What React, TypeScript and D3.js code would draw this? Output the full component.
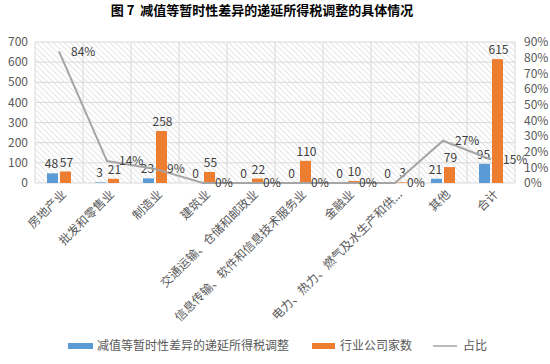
import React from "react";
import * as d3 from "d3";

const categories = [
  "房地产业",
  "批发和零售业",
  "制造业",
  "建筑业",
  "交通运输、仓储和邮政业",
  "信息传输、软件和信息技术服务业",
  "金融业",
  "电力、热力、燃气及水生产和供...",
  "其他",
  "合计",
];
const adjustCount = [48, 3, 23, 0, 0, 0, 0, 0, 21, 95];
const companyCount = [57, 21, 258, 55, 22, 110, 10, 3, 79, 615];
const ratio = [0.84, 0.14, 0.09, 0, 0, 0, 0, 0, 0.27, 0.15];
const leftTicks = [0, 100, 200, 300, 400, 500, 600, 700];
const rightTicks = [0, 0.1, 0.2, 0.3, 0.4, 0.5, 0.6, 0.7, 0.8, 0.9];

const W = 550;
const H = 364;
const margin = { top: 42, right: 35, bottom: 181, left: 35 };
const FONT = "'Noto Sans CJK SC', 'Noto Sans', sans-serif";
const BLUE = "#5b9bd5";
const ORANGE = "#ed7d31";
const GRAY = "#a5a5a5";

export default function App() {
  const innerW = W - margin.left - margin.right;
  const innerH = H - margin.top - margin.bottom;

  const x = d3.scaleBand<string>().domain(categories).range([0, innerW]);
  const yL = d3.scaleLinear().domain([0, 700]).range([innerH, 0]);
  const yR = d3.scaleLinear().domain([0, 0.9]).range([innerH, 0]);
  const barW = 11;
  const gap = 1;

  const line = d3
    .line<number>()
    .x((_, i) => x(categories[i])! + x.bandwidth() / 2)
    .y((d) => yR(d));

  return (
    <svg width={W} height={H} style={{ position: "absolute", left: 0, top: 0, background: "#fff" }} fontFamily={FONT}>
      <defs>
        <pattern id="hatch" width="4" height="4" patternUnits="userSpaceOnUse" patternTransform="rotate(-45)">
          <line x1="0" y1="0" x2="0" y2="4" stroke="#d4d4d4" strokeWidth="1.2" />
        </pattern>
      </defs>
      <text x={262} y={15} textAnchor="middle" fontSize={13} fontWeight="bold" fill="#000">
        图 7&#160;&#160;减值等暂时性差异的递延所得税调整的具体情况
      </text>
      <g transform={`translate(${margin.left},${margin.top})`}>
        <rect width={innerW} height={innerH} fill="url(#hatch)" />
        {leftTicks.map((t) => (
          <line key={t} x1={0} x2={innerW} y1={yL(t)} y2={yL(t)} stroke="#d9d9d9" />
        ))}
        {categories.map((c) => (
          <line key={c} x1={x(c)!} x2={x(c)!} y1={0} y2={innerH} stroke="#d9d9d9" />
        ))}
        <line x1={innerW} x2={innerW} y1={0} y2={innerH} stroke="#d9d9d9" />
        {leftTicks.map((t) => (
          <text key={t} x={-7} y={yL(t)} dy="0.35em" textAnchor="end" fontSize={12} fill="#595959">
            {t}
          </text>
        ))}
        {rightTicks.map((t) => (
          <text key={t} x={innerW + 9} y={yR(t)} dy="0.35em" textAnchor="start" fontSize={12} fill="#595959">
            {Math.round(t * 100)}%
          </text>
        ))}
        {categories.map((c, i) => {
          const cx = x(c)! + x.bandwidth() / 2;
          return (
            <g key={c}>
              <rect x={cx - barW - gap} y={yL(adjustCount[i])} width={barW} height={innerH - yL(adjustCount[i])} fill={BLUE} />
              <rect x={cx + gap} y={yL(companyCount[i])} width={barW} height={innerH - yL(companyCount[i])} fill={ORANGE} />
              <text x={cx - barW / 2 - gap - 1} y={yL(adjustCount[i]) - 5} textAnchor="middle" fontSize={12} fill="#404040">
                {adjustCount[i]}
              </text>
              <text x={cx + barW / 2 + gap + 1} y={yL(companyCount[i]) - 5} textAnchor="middle" fontSize={12} fill="#404040">
                {companyCount[i]}
              </text>
              <text
                transform={`translate(${cx + 5},${innerH + 9}) rotate(-45)`}
                textAnchor="end"
                dy="0.35em"
                fontSize={12}
                fill="#595959"
              >
                {c}
              </text>
            </g>
          );
        })}
        <path d={line(ratio)!} fill="none" stroke={GRAY} strokeWidth={2} />
        {ratio.map((r, i) => (
          <text
            key={i}
            x={x(categories[i])! + x.bandwidth() / 2 + 12}
            y={yR(r)}
            dy="0.35em"
            fontSize={12}
            fill="#404040"
          >
            {Math.round(r * 100)}%
          </text>
        ))}
      </g>
      <g transform="translate(68,346)" fontSize={12} fill="#595959">
        <rect x={0} y={-3} width={25} height={6} fill={BLUE} />
        <text x={29} y={0} dy="0.35em">减值等暂时性差异的递延所得税调整</text>
        <rect x={244} y={-3} width={23} height={6} fill={ORANGE} />
        <text x={272} y={0} dy="0.35em">行业公司家数</text>
        <line x1={365} x2={389} y1={0} y2={0} stroke={GRAY} strokeWidth={1.5} />
        <text x={395} y={0} dy="0.35em">占比</text>
      </g>
    </svg>
  );
}
